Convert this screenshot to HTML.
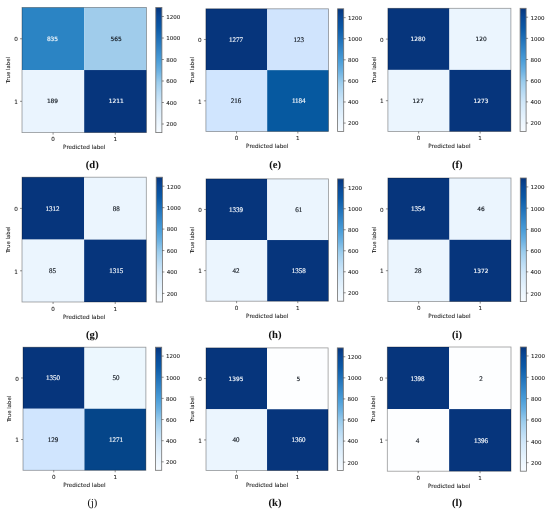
<!DOCTYPE html>
<html><head><meta charset="utf-8"><style>
html,body{margin:0;padding:0;background:#fff;}
body{width:550px;height:513px;overflow:hidden;}
svg{display:block;filter:blur(0.25px);}
text{text-rendering:geometricPrecision;}
</style></head><body>
<svg width="550" height="513" viewBox="0 0 550 513">
<rect width="550" height="513" fill="#fff"/>
<defs><linearGradient id="cb" x1="0" y1="1" x2="0" y2="0">
<stop offset="0.0000" stop-color="#f7fbff"/>
<stop offset="0.0900" stop-color="#eaf5fe"/>
<stop offset="0.2400" stop-color="#d0e7f9"/>
<stop offset="0.3200" stop-color="#b8dbf4"/>
<stop offset="0.4000" stop-color="#9ccded"/>
<stop offset="0.4900" stop-color="#6db2e2"/>
<stop offset="0.5800" stop-color="#4a9dd8"/>
<stop offset="0.7550" stop-color="#1f70b8"/>
<stop offset="0.8450" stop-color="#0b58a5"/>
<stop offset="0.9300" stop-color="#094896"/>
<stop offset="1.0000" stop-color="#06357c"/>
</linearGradient></defs>
<rect x="22.00" y="7.50" width="62.20" height="62.55" fill="#2b84c4"/>
<rect x="84.20" y="7.50" width="62.20" height="62.55" fill="#a0cceb"/>
<rect x="22.00" y="70.05" width="62.20" height="62.55" fill="#eaf4fe"/>
<rect x="84.20" y="70.05" width="62.20" height="62.55" fill="#06357c"/>
<rect x="22.00" y="7.50" width="124.40" height="125.10" fill="none" stroke="#000" stroke-opacity="0.4" stroke-width="0.8"/>
<text x="52.50" y="40.84" text-anchor="middle" style="fill:#f4f8fc;stroke:#f4f8fc;stroke-width:0.15px;font-family:'DejaVu Sans','Liberation Sans',sans-serif;font-size:5.9px;font-weight:normal" >835</text>
<text x="116.20" y="40.84" text-anchor="middle" style="fill:#10161e;stroke:#10161e;stroke-width:0.15px;font-family:'DejaVu Sans','Liberation Sans',sans-serif;font-size:5.9px;font-weight:normal" >565</text>
<text x="52.50" y="103.39" text-anchor="middle" style="fill:#10161e;stroke:#10161e;stroke-width:0.15px;font-family:'DejaVu Sans','Liberation Sans',sans-serif;font-size:5.9px;font-weight:normal" >189</text>
<text x="116.20" y="103.39" text-anchor="middle" style="fill:#f4f8fc;stroke:#f4f8fc;stroke-width:0.15px;font-family:'DejaVu Sans','Liberation Sans',sans-serif;font-size:5.9px;font-weight:normal" >1211</text>
<line x1="20.00" y1="38.77" x2="22.00" y2="38.77" stroke="#222" stroke-width="0.5"/>
<text x="17.80" y="41.48" text-anchor="end" style="fill:#222;stroke:#222;stroke-width:0.08px;font-family:'DejaVu Sans','Liberation Sans',sans-serif;font-size:5.7px;font-weight:normal" >0</text>
<line x1="20.00" y1="101.32" x2="22.00" y2="101.32" stroke="#222" stroke-width="0.5"/>
<text x="17.80" y="104.02" text-anchor="end" style="fill:#222;stroke:#222;stroke-width:0.08px;font-family:'DejaVu Sans','Liberation Sans',sans-serif;font-size:5.7px;font-weight:normal" >1</text>
<line x1="53.10" y1="132.60" x2="53.10" y2="134.60" stroke="#222" stroke-width="0.5"/>
<text x="53.10" y="141.10" text-anchor="middle" style="fill:#222;stroke:#222;stroke-width:0.08px;font-family:'DejaVu Sans','Liberation Sans',sans-serif;font-size:5.6px;font-weight:normal" >0</text>
<line x1="115.30" y1="132.60" x2="115.30" y2="134.60" stroke="#222" stroke-width="0.5"/>
<text x="115.30" y="141.10" text-anchor="middle" style="fill:#222;stroke:#222;stroke-width:0.08px;font-family:'DejaVu Sans','Liberation Sans',sans-serif;font-size:5.6px;font-weight:normal" >1</text>
<text x="84.20" y="149.20" text-anchor="middle" style="fill:#222;stroke:#222;stroke-width:0.08px;font-family:'DejaVu Sans','Liberation Sans',sans-serif;font-size:5.7px;font-weight:normal" >Predicted label</text>
<text x="10.10" y="70.05" text-anchor="middle" style="fill:#222;stroke:#222;stroke-width:0.08px;font-family:'DejaVu Sans','Liberation Sans',sans-serif;font-size:5.4px;font-weight:normal" transform="rotate(-90 10.10 70.05)">True label</text>
<rect x="155.80" y="7.50" width="6.10" height="125.10" fill="url(#cb)" stroke="#707070" stroke-width="0.8"/>
<line x1="161.90" y1="124.00" x2="163.90" y2="124.00" stroke="#222" stroke-width="0.5"/>
<text x="166.20" y="126.40" text-anchor="start" style="fill:#222;stroke:#222;stroke-width:0.08px;font-family:'DejaVu Sans','Liberation Sans',sans-serif;font-size:5.5px;font-weight:normal" >200</text>
<line x1="161.90" y1="102.51" x2="163.90" y2="102.51" stroke="#222" stroke-width="0.5"/>
<text x="166.20" y="104.91" text-anchor="start" style="fill:#222;stroke:#222;stroke-width:0.08px;font-family:'DejaVu Sans','Liberation Sans',sans-serif;font-size:5.5px;font-weight:normal" >400</text>
<line x1="161.90" y1="81.01" x2="163.90" y2="81.01" stroke="#222" stroke-width="0.5"/>
<text x="166.20" y="83.41" text-anchor="start" style="fill:#222;stroke:#222;stroke-width:0.08px;font-family:'DejaVu Sans','Liberation Sans',sans-serif;font-size:5.5px;font-weight:normal" >600</text>
<line x1="161.90" y1="59.52" x2="163.90" y2="59.52" stroke="#222" stroke-width="0.5"/>
<text x="166.20" y="61.92" text-anchor="start" style="fill:#222;stroke:#222;stroke-width:0.08px;font-family:'DejaVu Sans','Liberation Sans',sans-serif;font-size:5.5px;font-weight:normal" >800</text>
<line x1="161.90" y1="38.02" x2="163.90" y2="38.02" stroke="#222" stroke-width="0.5"/>
<text x="166.20" y="40.42" text-anchor="start" style="fill:#222;stroke:#222;stroke-width:0.08px;font-family:'DejaVu Sans','Liberation Sans',sans-serif;font-size:5.5px;font-weight:normal" >1000</text>
<line x1="161.90" y1="16.53" x2="163.90" y2="16.53" stroke="#222" stroke-width="0.5"/>
<text x="166.20" y="18.93" text-anchor="start" style="fill:#222;stroke:#222;stroke-width:0.08px;font-family:'DejaVu Sans','Liberation Sans',sans-serif;font-size:5.5px;font-weight:normal" >1200</text>
<text x="92.30" y="167.70" text-anchor="middle" style="fill:#111;stroke:#111;stroke-width:0.05px;font-family:'Liberation Serif','DejaVu Serif',serif;font-size:10.6px;font-weight:bold" >(d)</text>
<rect x="205.90" y="8.80" width="61.30" height="61.35" fill="#06357c"/>
<rect x="267.20" y="8.80" width="61.30" height="61.35" fill="#d0e4fd"/>
<rect x="205.90" y="70.15" width="61.30" height="61.35" fill="#d0e5fe"/>
<rect x="267.20" y="70.15" width="61.30" height="61.35" fill="#0659a0"/>
<rect x="205.90" y="8.80" width="122.60" height="122.70" fill="none" stroke="#000" stroke-opacity="0.4" stroke-width="0.8"/>
<text x="235.95" y="41.93" text-anchor="middle" style="fill:#f4f8fc;stroke:#f4f8fc;stroke-width:0.15px;font-family:'Liberation Serif','DejaVu Serif',serif;font-size:7.0px;font-weight:normal" >1277</text>
<text x="298.75" y="41.93" text-anchor="middle" style="fill:#10161e;stroke:#10161e;stroke-width:0.15px;font-family:'Liberation Serif','DejaVu Serif',serif;font-size:7.0px;font-weight:normal" >123</text>
<text x="235.95" y="103.28" text-anchor="middle" style="fill:#10161e;stroke:#10161e;stroke-width:0.15px;font-family:'Liberation Serif','DejaVu Serif',serif;font-size:7.0px;font-weight:normal" >216</text>
<text x="298.75" y="103.28" text-anchor="middle" style="fill:#f4f8fc;stroke:#f4f8fc;stroke-width:0.15px;font-family:'Liberation Serif','DejaVu Serif',serif;font-size:7.0px;font-weight:normal" >1184</text>
<line x1="203.90" y1="39.48" x2="205.90" y2="39.48" stroke="#222" stroke-width="0.5"/>
<text x="201.70" y="42.18" text-anchor="end" style="fill:#222;stroke:#222;stroke-width:0.08px;font-family:'DejaVu Sans','Liberation Sans',sans-serif;font-size:5.7px;font-weight:normal" >0</text>
<line x1="203.90" y1="100.83" x2="205.90" y2="100.83" stroke="#222" stroke-width="0.5"/>
<text x="201.70" y="103.53" text-anchor="end" style="fill:#222;stroke:#222;stroke-width:0.08px;font-family:'DejaVu Sans','Liberation Sans',sans-serif;font-size:5.7px;font-weight:normal" >1</text>
<line x1="236.55" y1="131.50" x2="236.55" y2="133.50" stroke="#222" stroke-width="0.5"/>
<text x="236.55" y="140.00" text-anchor="middle" style="fill:#222;stroke:#222;stroke-width:0.08px;font-family:'DejaVu Sans','Liberation Sans',sans-serif;font-size:5.6px;font-weight:normal" >0</text>
<line x1="297.85" y1="131.50" x2="297.85" y2="133.50" stroke="#222" stroke-width="0.5"/>
<text x="297.85" y="140.00" text-anchor="middle" style="fill:#222;stroke:#222;stroke-width:0.08px;font-family:'DejaVu Sans','Liberation Sans',sans-serif;font-size:5.6px;font-weight:normal" >1</text>
<text x="267.20" y="148.10" text-anchor="middle" style="fill:#222;stroke:#222;stroke-width:0.08px;font-family:'DejaVu Sans','Liberation Sans',sans-serif;font-size:5.7px;font-weight:normal" >Predicted label</text>
<text x="194.00" y="70.15" text-anchor="middle" style="fill:#222;stroke:#222;stroke-width:0.08px;font-family:'DejaVu Sans','Liberation Sans',sans-serif;font-size:5.4px;font-weight:normal" transform="rotate(-90 194.00 70.15)">True label</text>
<rect x="337.60" y="8.80" width="6.10" height="122.70" fill="url(#cb)" stroke="#707070" stroke-width="0.8"/>
<line x1="343.70" y1="123.07" x2="345.70" y2="123.07" stroke="#222" stroke-width="0.5"/>
<text x="348.00" y="125.47" text-anchor="start" style="fill:#222;stroke:#222;stroke-width:0.08px;font-family:'DejaVu Sans','Liberation Sans',sans-serif;font-size:5.5px;font-weight:normal" >200</text>
<line x1="343.70" y1="101.98" x2="345.70" y2="101.98" stroke="#222" stroke-width="0.5"/>
<text x="348.00" y="104.38" text-anchor="start" style="fill:#222;stroke:#222;stroke-width:0.08px;font-family:'DejaVu Sans','Liberation Sans',sans-serif;font-size:5.5px;font-weight:normal" >400</text>
<line x1="343.70" y1="80.90" x2="345.70" y2="80.90" stroke="#222" stroke-width="0.5"/>
<text x="348.00" y="83.30" text-anchor="start" style="fill:#222;stroke:#222;stroke-width:0.08px;font-family:'DejaVu Sans','Liberation Sans',sans-serif;font-size:5.5px;font-weight:normal" >600</text>
<line x1="343.70" y1="59.82" x2="345.70" y2="59.82" stroke="#222" stroke-width="0.5"/>
<text x="348.00" y="62.22" text-anchor="start" style="fill:#222;stroke:#222;stroke-width:0.08px;font-family:'DejaVu Sans','Liberation Sans',sans-serif;font-size:5.5px;font-weight:normal" >800</text>
<line x1="343.70" y1="38.74" x2="345.70" y2="38.74" stroke="#222" stroke-width="0.5"/>
<text x="348.00" y="41.14" text-anchor="start" style="fill:#222;stroke:#222;stroke-width:0.08px;font-family:'DejaVu Sans','Liberation Sans',sans-serif;font-size:5.5px;font-weight:normal" >1000</text>
<line x1="343.70" y1="17.65" x2="345.70" y2="17.65" stroke="#222" stroke-width="0.5"/>
<text x="348.00" y="20.05" text-anchor="start" style="fill:#222;stroke:#222;stroke-width:0.08px;font-family:'DejaVu Sans','Liberation Sans',sans-serif;font-size:5.5px;font-weight:normal" >1200</text>
<text x="275.20" y="167.70" text-anchor="middle" style="fill:#111;stroke:#111;stroke-width:0.05px;font-family:'Liberation Serif','DejaVu Serif',serif;font-size:10.6px;font-weight:bold" >(e)</text>
<rect x="387.90" y="8.30" width="61.50" height="61.60" fill="#06357c"/>
<rect x="449.40" y="8.30" width="61.50" height="61.60" fill="#ebf5fe"/>
<rect x="387.90" y="69.90" width="61.50" height="61.60" fill="#ebf5fe"/>
<rect x="449.40" y="69.90" width="61.50" height="61.60" fill="#06357c"/>
<rect x="387.90" y="8.30" width="123.00" height="123.20" fill="none" stroke="#000" stroke-opacity="0.4" stroke-width="0.8"/>
<text x="418.05" y="41.16" text-anchor="middle" style="fill:#f4f8fc;stroke:#f4f8fc;stroke-width:0.15px;font-family:'DejaVu Sans','Liberation Sans',sans-serif;font-size:5.9px;font-weight:normal" >1280</text>
<text x="481.05" y="41.16" text-anchor="middle" style="fill:#10161e;stroke:#10161e;stroke-width:0.15px;font-family:'DejaVu Sans','Liberation Sans',sans-serif;font-size:5.9px;font-weight:normal" >120</text>
<text x="418.05" y="102.77" text-anchor="middle" style="fill:#10161e;stroke:#10161e;stroke-width:0.15px;font-family:'DejaVu Sans','Liberation Sans',sans-serif;font-size:5.9px;font-weight:normal" >127</text>
<text x="481.05" y="102.77" text-anchor="middle" style="fill:#f4f8fc;stroke:#f4f8fc;stroke-width:0.15px;font-family:'DejaVu Sans','Liberation Sans',sans-serif;font-size:5.9px;font-weight:normal" >1273</text>
<line x1="385.90" y1="39.10" x2="387.90" y2="39.10" stroke="#222" stroke-width="0.5"/>
<text x="383.70" y="41.80" text-anchor="end" style="fill:#222;stroke:#222;stroke-width:0.08px;font-family:'DejaVu Sans','Liberation Sans',sans-serif;font-size:5.7px;font-weight:normal" >0</text>
<line x1="385.90" y1="100.70" x2="387.90" y2="100.70" stroke="#222" stroke-width="0.5"/>
<text x="383.70" y="103.40" text-anchor="end" style="fill:#222;stroke:#222;stroke-width:0.08px;font-family:'DejaVu Sans','Liberation Sans',sans-serif;font-size:5.7px;font-weight:normal" >1</text>
<line x1="418.65" y1="131.50" x2="418.65" y2="133.50" stroke="#222" stroke-width="0.5"/>
<text x="418.65" y="140.00" text-anchor="middle" style="fill:#222;stroke:#222;stroke-width:0.08px;font-family:'DejaVu Sans','Liberation Sans',sans-serif;font-size:5.6px;font-weight:normal" >0</text>
<line x1="480.15" y1="131.50" x2="480.15" y2="133.50" stroke="#222" stroke-width="0.5"/>
<text x="480.15" y="140.00" text-anchor="middle" style="fill:#222;stroke:#222;stroke-width:0.08px;font-family:'DejaVu Sans','Liberation Sans',sans-serif;font-size:5.6px;font-weight:normal" >1</text>
<text x="449.40" y="148.10" text-anchor="middle" style="fill:#222;stroke:#222;stroke-width:0.08px;font-family:'DejaVu Sans','Liberation Sans',sans-serif;font-size:5.7px;font-weight:normal" >Predicted label</text>
<text x="376.00" y="69.90" text-anchor="middle" style="fill:#222;stroke:#222;stroke-width:0.08px;font-family:'DejaVu Sans','Liberation Sans',sans-serif;font-size:5.4px;font-weight:normal" transform="rotate(-90 376.00 69.90)">True label</text>
<rect x="520.10" y="8.30" width="6.00" height="123.20" fill="url(#cb)" stroke="#707070" stroke-width="0.8"/>
<line x1="526.10" y1="123.03" x2="528.10" y2="123.03" stroke="#222" stroke-width="0.5"/>
<text x="530.40" y="125.43" text-anchor="start" style="fill:#222;stroke:#222;stroke-width:0.08px;font-family:'DejaVu Sans','Liberation Sans',sans-serif;font-size:5.5px;font-weight:normal" >200</text>
<line x1="526.10" y1="101.86" x2="528.10" y2="101.86" stroke="#222" stroke-width="0.5"/>
<text x="530.40" y="104.26" text-anchor="start" style="fill:#222;stroke:#222;stroke-width:0.08px;font-family:'DejaVu Sans','Liberation Sans',sans-serif;font-size:5.5px;font-weight:normal" >400</text>
<line x1="526.10" y1="80.70" x2="528.10" y2="80.70" stroke="#222" stroke-width="0.5"/>
<text x="530.40" y="83.10" text-anchor="start" style="fill:#222;stroke:#222;stroke-width:0.08px;font-family:'DejaVu Sans','Liberation Sans',sans-serif;font-size:5.5px;font-weight:normal" >600</text>
<line x1="526.10" y1="59.53" x2="528.10" y2="59.53" stroke="#222" stroke-width="0.5"/>
<text x="530.40" y="61.93" text-anchor="start" style="fill:#222;stroke:#222;stroke-width:0.08px;font-family:'DejaVu Sans','Liberation Sans',sans-serif;font-size:5.5px;font-weight:normal" >800</text>
<line x1="526.10" y1="38.36" x2="528.10" y2="38.36" stroke="#222" stroke-width="0.5"/>
<text x="530.40" y="40.76" text-anchor="start" style="fill:#222;stroke:#222;stroke-width:0.08px;font-family:'DejaVu Sans','Liberation Sans',sans-serif;font-size:5.5px;font-weight:normal" >1000</text>
<line x1="526.10" y1="17.19" x2="528.10" y2="17.19" stroke="#222" stroke-width="0.5"/>
<text x="530.40" y="19.59" text-anchor="start" style="fill:#222;stroke:#222;stroke-width:0.08px;font-family:'DejaVu Sans','Liberation Sans',sans-serif;font-size:5.5px;font-weight:normal" >1200</text>
<text x="457.30" y="167.70" text-anchor="middle" style="fill:#111;stroke:#111;stroke-width:0.05px;font-family:'Liberation Serif','DejaVu Serif',serif;font-size:10.6px;font-weight:bold" >(f)</text>
<rect x="22.00" y="177.20" width="62.15" height="62.40" fill="#06357c"/>
<rect x="84.15" y="177.20" width="62.15" height="62.40" fill="#ebf5fe"/>
<rect x="22.00" y="239.60" width="62.15" height="62.40" fill="#ebf5fe"/>
<rect x="84.15" y="239.60" width="62.15" height="62.40" fill="#06357c"/>
<rect x="22.00" y="177.20" width="124.30" height="124.80" fill="none" stroke="#000" stroke-opacity="0.4" stroke-width="0.8"/>
<text x="52.48" y="210.85" text-anchor="middle" style="fill:#f4f8fc;stroke:#f4f8fc;stroke-width:0.15px;font-family:'Liberation Serif','DejaVu Serif',serif;font-size:7.0px;font-weight:normal" >1312</text>
<text x="116.13" y="210.85" text-anchor="middle" style="fill:#10161e;stroke:#10161e;stroke-width:0.15px;font-family:'Liberation Serif','DejaVu Serif',serif;font-size:7.0px;font-weight:normal" >88</text>
<text x="52.48" y="273.25" text-anchor="middle" style="fill:#10161e;stroke:#10161e;stroke-width:0.15px;font-family:'Liberation Serif','DejaVu Serif',serif;font-size:7.0px;font-weight:normal" >85</text>
<text x="116.13" y="273.25" text-anchor="middle" style="fill:#f4f8fc;stroke:#f4f8fc;stroke-width:0.15px;font-family:'Liberation Serif','DejaVu Serif',serif;font-size:7.0px;font-weight:normal" >1315</text>
<line x1="20.00" y1="208.40" x2="22.00" y2="208.40" stroke="#222" stroke-width="0.5"/>
<text x="17.80" y="211.10" text-anchor="end" style="fill:#222;stroke:#222;stroke-width:0.08px;font-family:'DejaVu Sans','Liberation Sans',sans-serif;font-size:5.7px;font-weight:normal" >0</text>
<line x1="20.00" y1="270.80" x2="22.00" y2="270.80" stroke="#222" stroke-width="0.5"/>
<text x="17.80" y="273.50" text-anchor="end" style="fill:#222;stroke:#222;stroke-width:0.08px;font-family:'DejaVu Sans','Liberation Sans',sans-serif;font-size:5.7px;font-weight:normal" >1</text>
<line x1="53.08" y1="302.00" x2="53.08" y2="304.00" stroke="#222" stroke-width="0.5"/>
<text x="53.08" y="310.50" text-anchor="middle" style="fill:#222;stroke:#222;stroke-width:0.08px;font-family:'DejaVu Sans','Liberation Sans',sans-serif;font-size:5.6px;font-weight:normal" >0</text>
<line x1="115.23" y1="302.00" x2="115.23" y2="304.00" stroke="#222" stroke-width="0.5"/>
<text x="115.23" y="310.50" text-anchor="middle" style="fill:#222;stroke:#222;stroke-width:0.08px;font-family:'DejaVu Sans','Liberation Sans',sans-serif;font-size:5.6px;font-weight:normal" >1</text>
<text x="84.15" y="318.60" text-anchor="middle" style="fill:#222;stroke:#222;stroke-width:0.08px;font-family:'DejaVu Sans','Liberation Sans',sans-serif;font-size:5.7px;font-weight:normal" >Predicted label</text>
<text x="10.10" y="239.60" text-anchor="middle" style="fill:#222;stroke:#222;stroke-width:0.08px;font-family:'DejaVu Sans','Liberation Sans',sans-serif;font-size:5.4px;font-weight:normal" transform="rotate(-90 10.10 239.60)">True label</text>
<rect x="156.20" y="177.20" width="6.20" height="124.80" fill="url(#cb)" stroke="#707070" stroke-width="0.8"/>
<line x1="162.40" y1="293.42" x2="164.40" y2="293.42" stroke="#222" stroke-width="0.5"/>
<text x="166.70" y="295.82" text-anchor="start" style="fill:#222;stroke:#222;stroke-width:0.08px;font-family:'DejaVu Sans','Liberation Sans',sans-serif;font-size:5.5px;font-weight:normal" >200</text>
<line x1="162.40" y1="271.98" x2="164.40" y2="271.98" stroke="#222" stroke-width="0.5"/>
<text x="166.70" y="274.38" text-anchor="start" style="fill:#222;stroke:#222;stroke-width:0.08px;font-family:'DejaVu Sans','Liberation Sans',sans-serif;font-size:5.5px;font-weight:normal" >400</text>
<line x1="162.40" y1="250.54" x2="164.40" y2="250.54" stroke="#222" stroke-width="0.5"/>
<text x="166.70" y="252.94" text-anchor="start" style="fill:#222;stroke:#222;stroke-width:0.08px;font-family:'DejaVu Sans','Liberation Sans',sans-serif;font-size:5.5px;font-weight:normal" >600</text>
<line x1="162.40" y1="229.09" x2="164.40" y2="229.09" stroke="#222" stroke-width="0.5"/>
<text x="166.70" y="231.49" text-anchor="start" style="fill:#222;stroke:#222;stroke-width:0.08px;font-family:'DejaVu Sans','Liberation Sans',sans-serif;font-size:5.5px;font-weight:normal" >800</text>
<line x1="162.40" y1="207.65" x2="164.40" y2="207.65" stroke="#222" stroke-width="0.5"/>
<text x="166.70" y="210.05" text-anchor="start" style="fill:#222;stroke:#222;stroke-width:0.08px;font-family:'DejaVu Sans','Liberation Sans',sans-serif;font-size:5.5px;font-weight:normal" >1000</text>
<line x1="162.40" y1="186.21" x2="164.40" y2="186.21" stroke="#222" stroke-width="0.5"/>
<text x="166.70" y="188.61" text-anchor="start" style="fill:#222;stroke:#222;stroke-width:0.08px;font-family:'DejaVu Sans','Liberation Sans',sans-serif;font-size:5.5px;font-weight:normal" >1200</text>
<text x="92.20" y="338.00" text-anchor="middle" style="fill:#111;stroke:#111;stroke-width:0.05px;font-family:'Liberation Serif','DejaVu Serif',serif;font-size:10.6px;font-weight:bold" >(g)</text>
<rect x="206.00" y="178.90" width="61.20" height="61.15" fill="#06357c"/>
<rect x="267.20" y="178.90" width="61.20" height="61.15" fill="#ebf5fe"/>
<rect x="206.00" y="240.05" width="61.20" height="61.15" fill="#ebf5fe"/>
<rect x="267.20" y="240.05" width="61.20" height="61.15" fill="#06357c"/>
<rect x="206.00" y="178.90" width="122.40" height="122.30" fill="none" stroke="#000" stroke-opacity="0.4" stroke-width="0.8"/>
<text x="236.00" y="211.93" text-anchor="middle" style="fill:#f4f8fc;stroke:#f4f8fc;stroke-width:0.15px;font-family:'Liberation Serif','DejaVu Serif',serif;font-size:7.0px;font-weight:normal" >1339</text>
<text x="298.70" y="211.93" text-anchor="middle" style="fill:#10161e;stroke:#10161e;stroke-width:0.15px;font-family:'Liberation Serif','DejaVu Serif',serif;font-size:7.0px;font-weight:normal" >61</text>
<text x="236.00" y="273.07" text-anchor="middle" style="fill:#10161e;stroke:#10161e;stroke-width:0.15px;font-family:'Liberation Serif','DejaVu Serif',serif;font-size:7.0px;font-weight:normal" >42</text>
<text x="298.70" y="273.07" text-anchor="middle" style="fill:#f4f8fc;stroke:#f4f8fc;stroke-width:0.15px;font-family:'Liberation Serif','DejaVu Serif',serif;font-size:7.0px;font-weight:normal" >1358</text>
<line x1="204.00" y1="209.48" x2="206.00" y2="209.48" stroke="#222" stroke-width="0.5"/>
<text x="201.80" y="212.18" text-anchor="end" style="fill:#222;stroke:#222;stroke-width:0.08px;font-family:'DejaVu Sans','Liberation Sans',sans-serif;font-size:5.7px;font-weight:normal" >0</text>
<line x1="204.00" y1="270.62" x2="206.00" y2="270.62" stroke="#222" stroke-width="0.5"/>
<text x="201.80" y="273.32" text-anchor="end" style="fill:#222;stroke:#222;stroke-width:0.08px;font-family:'DejaVu Sans','Liberation Sans',sans-serif;font-size:5.7px;font-weight:normal" >1</text>
<line x1="236.60" y1="301.20" x2="236.60" y2="303.20" stroke="#222" stroke-width="0.5"/>
<text x="236.60" y="309.70" text-anchor="middle" style="fill:#222;stroke:#222;stroke-width:0.08px;font-family:'DejaVu Sans','Liberation Sans',sans-serif;font-size:5.6px;font-weight:normal" >0</text>
<line x1="297.80" y1="301.20" x2="297.80" y2="303.20" stroke="#222" stroke-width="0.5"/>
<text x="297.80" y="309.70" text-anchor="middle" style="fill:#222;stroke:#222;stroke-width:0.08px;font-family:'DejaVu Sans','Liberation Sans',sans-serif;font-size:5.6px;font-weight:normal" >1</text>
<text x="267.20" y="317.80" text-anchor="middle" style="fill:#222;stroke:#222;stroke-width:0.08px;font-family:'DejaVu Sans','Liberation Sans',sans-serif;font-size:5.7px;font-weight:normal" >Predicted label</text>
<text x="194.10" y="240.05" text-anchor="middle" style="fill:#222;stroke:#222;stroke-width:0.08px;font-family:'DejaVu Sans','Liberation Sans',sans-serif;font-size:5.4px;font-weight:normal" transform="rotate(-90 194.10 240.05)">True label</text>
<rect x="337.60" y="178.90" width="6.10" height="122.30" fill="url(#cb)" stroke="#707070" stroke-width="0.8"/>
<line x1="343.70" y1="292.79" x2="345.70" y2="292.79" stroke="#222" stroke-width="0.5"/>
<text x="348.00" y="295.19" text-anchor="start" style="fill:#222;stroke:#222;stroke-width:0.08px;font-family:'DejaVu Sans','Liberation Sans',sans-serif;font-size:5.5px;font-weight:normal" >200</text>
<line x1="343.70" y1="271.78" x2="345.70" y2="271.78" stroke="#222" stroke-width="0.5"/>
<text x="348.00" y="274.18" text-anchor="start" style="fill:#222;stroke:#222;stroke-width:0.08px;font-family:'DejaVu Sans','Liberation Sans',sans-serif;font-size:5.5px;font-weight:normal" >400</text>
<line x1="343.70" y1="250.77" x2="345.70" y2="250.77" stroke="#222" stroke-width="0.5"/>
<text x="348.00" y="253.17" text-anchor="start" style="fill:#222;stroke:#222;stroke-width:0.08px;font-family:'DejaVu Sans','Liberation Sans',sans-serif;font-size:5.5px;font-weight:normal" >600</text>
<line x1="343.70" y1="229.75" x2="345.70" y2="229.75" stroke="#222" stroke-width="0.5"/>
<text x="348.00" y="232.15" text-anchor="start" style="fill:#222;stroke:#222;stroke-width:0.08px;font-family:'DejaVu Sans','Liberation Sans',sans-serif;font-size:5.5px;font-weight:normal" >800</text>
<line x1="343.70" y1="208.74" x2="345.70" y2="208.74" stroke="#222" stroke-width="0.5"/>
<text x="348.00" y="211.14" text-anchor="start" style="fill:#222;stroke:#222;stroke-width:0.08px;font-family:'DejaVu Sans','Liberation Sans',sans-serif;font-size:5.5px;font-weight:normal" >1000</text>
<line x1="343.70" y1="187.73" x2="345.70" y2="187.73" stroke="#222" stroke-width="0.5"/>
<text x="348.00" y="190.13" text-anchor="start" style="fill:#222;stroke:#222;stroke-width:0.08px;font-family:'DejaVu Sans','Liberation Sans',sans-serif;font-size:5.5px;font-weight:normal" >1200</text>
<text x="275.00" y="338.00" text-anchor="middle" style="fill:#111;stroke:#111;stroke-width:0.05px;font-family:'Liberation Serif','DejaVu Serif',serif;font-size:10.6px;font-weight:bold" >(h)</text>
<rect x="387.90" y="178.00" width="61.55" height="61.80" fill="#06357c"/>
<rect x="449.45" y="178.00" width="61.55" height="61.80" fill="#ebf5fe"/>
<rect x="387.90" y="239.80" width="61.55" height="61.80" fill="#ebf5fe"/>
<rect x="449.45" y="239.80" width="61.55" height="61.80" fill="#06357c"/>
<rect x="387.90" y="178.00" width="123.10" height="123.60" fill="none" stroke="#000" stroke-opacity="0.4" stroke-width="0.8"/>
<text x="418.07" y="211.35" text-anchor="middle" style="fill:#f4f8fc;stroke:#f4f8fc;stroke-width:0.15px;font-family:'Liberation Serif','DejaVu Serif',serif;font-size:7.0px;font-weight:normal" >1354</text>
<text x="481.12" y="210.97" text-anchor="middle" style="fill:#10161e;stroke:#10161e;stroke-width:0.15px;font-family:'DejaVu Sans','Liberation Sans',sans-serif;font-size:5.9px;font-weight:normal" >46</text>
<text x="418.07" y="273.15" text-anchor="middle" style="fill:#10161e;stroke:#10161e;stroke-width:0.15px;font-family:'Liberation Serif','DejaVu Serif',serif;font-size:7.0px;font-weight:normal" >28</text>
<text x="481.12" y="272.77" text-anchor="middle" style="fill:#f4f8fc;stroke:#f4f8fc;stroke-width:0.15px;font-family:'DejaVu Sans','Liberation Sans',sans-serif;font-size:5.9px;font-weight:normal" >1372</text>
<line x1="385.90" y1="208.90" x2="387.90" y2="208.90" stroke="#222" stroke-width="0.5"/>
<text x="383.70" y="211.60" text-anchor="end" style="fill:#222;stroke:#222;stroke-width:0.08px;font-family:'DejaVu Sans','Liberation Sans',sans-serif;font-size:5.7px;font-weight:normal" >0</text>
<line x1="385.90" y1="270.70" x2="387.90" y2="270.70" stroke="#222" stroke-width="0.5"/>
<text x="383.70" y="273.40" text-anchor="end" style="fill:#222;stroke:#222;stroke-width:0.08px;font-family:'DejaVu Sans','Liberation Sans',sans-serif;font-size:5.7px;font-weight:normal" >1</text>
<line x1="418.67" y1="301.60" x2="418.67" y2="303.60" stroke="#222" stroke-width="0.5"/>
<text x="418.67" y="310.10" text-anchor="middle" style="fill:#222;stroke:#222;stroke-width:0.08px;font-family:'DejaVu Sans','Liberation Sans',sans-serif;font-size:5.6px;font-weight:normal" >0</text>
<line x1="480.23" y1="301.60" x2="480.23" y2="303.60" stroke="#222" stroke-width="0.5"/>
<text x="480.23" y="310.10" text-anchor="middle" style="fill:#222;stroke:#222;stroke-width:0.08px;font-family:'DejaVu Sans','Liberation Sans',sans-serif;font-size:5.6px;font-weight:normal" >1</text>
<text x="449.45" y="318.20" text-anchor="middle" style="fill:#222;stroke:#222;stroke-width:0.08px;font-family:'DejaVu Sans','Liberation Sans',sans-serif;font-size:5.7px;font-weight:normal" >Predicted label</text>
<text x="376.00" y="239.80" text-anchor="middle" style="fill:#222;stroke:#222;stroke-width:0.08px;font-family:'DejaVu Sans','Liberation Sans',sans-serif;font-size:5.4px;font-weight:normal" transform="rotate(-90 376.00 239.80)">True label</text>
<rect x="520.30" y="178.00" width="6.00" height="123.60" fill="url(#cb)" stroke="#707070" stroke-width="0.8"/>
<line x1="526.30" y1="293.11" x2="528.30" y2="293.11" stroke="#222" stroke-width="0.5"/>
<text x="530.60" y="295.51" text-anchor="start" style="fill:#222;stroke:#222;stroke-width:0.08px;font-family:'DejaVu Sans','Liberation Sans',sans-serif;font-size:5.5px;font-weight:normal" >200</text>
<line x1="526.30" y1="271.87" x2="528.30" y2="271.87" stroke="#222" stroke-width="0.5"/>
<text x="530.60" y="274.27" text-anchor="start" style="fill:#222;stroke:#222;stroke-width:0.08px;font-family:'DejaVu Sans','Liberation Sans',sans-serif;font-size:5.5px;font-weight:normal" >400</text>
<line x1="526.30" y1="250.63" x2="528.30" y2="250.63" stroke="#222" stroke-width="0.5"/>
<text x="530.60" y="253.03" text-anchor="start" style="fill:#222;stroke:#222;stroke-width:0.08px;font-family:'DejaVu Sans','Liberation Sans',sans-serif;font-size:5.5px;font-weight:normal" >600</text>
<line x1="526.30" y1="229.39" x2="528.30" y2="229.39" stroke="#222" stroke-width="0.5"/>
<text x="530.60" y="231.79" text-anchor="start" style="fill:#222;stroke:#222;stroke-width:0.08px;font-family:'DejaVu Sans','Liberation Sans',sans-serif;font-size:5.5px;font-weight:normal" >800</text>
<line x1="526.30" y1="208.16" x2="528.30" y2="208.16" stroke="#222" stroke-width="0.5"/>
<text x="530.60" y="210.56" text-anchor="start" style="fill:#222;stroke:#222;stroke-width:0.08px;font-family:'DejaVu Sans','Liberation Sans',sans-serif;font-size:5.5px;font-weight:normal" >1000</text>
<line x1="526.30" y1="186.92" x2="528.30" y2="186.92" stroke="#222" stroke-width="0.5"/>
<text x="530.60" y="189.32" text-anchor="start" style="fill:#222;stroke:#222;stroke-width:0.08px;font-family:'DejaVu Sans','Liberation Sans',sans-serif;font-size:5.5px;font-weight:normal" >1200</text>
<text x="457.10" y="338.00" text-anchor="middle" style="fill:#111;stroke:#111;stroke-width:0.05px;font-family:'Liberation Serif','DejaVu Serif',serif;font-size:10.6px;font-weight:bold" >(i)</text>
<rect x="23.00" y="347.20" width="61.45" height="61.55" fill="#06357c"/>
<rect x="84.45" y="347.20" width="61.45" height="61.55" fill="#ecf7fe"/>
<rect x="23.00" y="408.75" width="61.45" height="61.55" fill="#d0e5fe"/>
<rect x="84.45" y="408.75" width="61.45" height="61.55" fill="#054589"/>
<rect x="23.00" y="347.20" width="122.90" height="123.10" fill="none" stroke="#000" stroke-opacity="0.4" stroke-width="0.8"/>
<text x="53.12" y="380.43" text-anchor="middle" style="fill:#f4f8fc;stroke:#f4f8fc;stroke-width:0.15px;font-family:'Liberation Serif','DejaVu Serif',serif;font-size:7.0px;font-weight:normal" >1350</text>
<text x="116.08" y="380.43" text-anchor="middle" style="fill:#10161e;stroke:#10161e;stroke-width:0.15px;font-family:'Liberation Serif','DejaVu Serif',serif;font-size:7.0px;font-weight:normal" >50</text>
<text x="53.12" y="441.97" text-anchor="middle" style="fill:#10161e;stroke:#10161e;stroke-width:0.15px;font-family:'Liberation Serif','DejaVu Serif',serif;font-size:7.0px;font-weight:normal" >129</text>
<text x="116.08" y="441.97" text-anchor="middle" style="fill:#f4f8fc;stroke:#f4f8fc;stroke-width:0.15px;font-family:'Liberation Serif','DejaVu Serif',serif;font-size:7.0px;font-weight:normal" >1271</text>
<line x1="21.00" y1="377.98" x2="23.00" y2="377.98" stroke="#222" stroke-width="0.5"/>
<text x="18.80" y="380.68" text-anchor="end" style="fill:#222;stroke:#222;stroke-width:0.08px;font-family:'DejaVu Sans','Liberation Sans',sans-serif;font-size:5.7px;font-weight:normal" >0</text>
<line x1="21.00" y1="439.52" x2="23.00" y2="439.52" stroke="#222" stroke-width="0.5"/>
<text x="18.80" y="442.22" text-anchor="end" style="fill:#222;stroke:#222;stroke-width:0.08px;font-family:'DejaVu Sans','Liberation Sans',sans-serif;font-size:5.7px;font-weight:normal" >1</text>
<line x1="53.73" y1="470.30" x2="53.73" y2="472.30" stroke="#222" stroke-width="0.5"/>
<text x="53.73" y="478.80" text-anchor="middle" style="fill:#222;stroke:#222;stroke-width:0.08px;font-family:'DejaVu Sans','Liberation Sans',sans-serif;font-size:5.6px;font-weight:normal" >0</text>
<line x1="115.18" y1="470.30" x2="115.18" y2="472.30" stroke="#222" stroke-width="0.5"/>
<text x="115.18" y="478.80" text-anchor="middle" style="fill:#222;stroke:#222;stroke-width:0.08px;font-family:'DejaVu Sans','Liberation Sans',sans-serif;font-size:5.6px;font-weight:normal" >1</text>
<text x="84.45" y="486.90" text-anchor="middle" style="fill:#222;stroke:#222;stroke-width:0.08px;font-family:'DejaVu Sans','Liberation Sans',sans-serif;font-size:5.7px;font-weight:normal" >Predicted label</text>
<text x="11.10" y="408.75" text-anchor="middle" style="fill:#222;stroke:#222;stroke-width:0.08px;font-family:'DejaVu Sans','Liberation Sans',sans-serif;font-size:5.4px;font-weight:normal" transform="rotate(-90 11.10 408.75)">True label</text>
<rect x="155.50" y="347.20" width="6.20" height="123.10" fill="url(#cb)" stroke="#707070" stroke-width="0.8"/>
<line x1="161.70" y1="461.84" x2="163.70" y2="461.84" stroke="#222" stroke-width="0.5"/>
<text x="166.00" y="464.24" text-anchor="start" style="fill:#222;stroke:#222;stroke-width:0.08px;font-family:'DejaVu Sans','Liberation Sans',sans-serif;font-size:5.5px;font-weight:normal" >200</text>
<line x1="161.70" y1="440.69" x2="163.70" y2="440.69" stroke="#222" stroke-width="0.5"/>
<text x="166.00" y="443.09" text-anchor="start" style="fill:#222;stroke:#222;stroke-width:0.08px;font-family:'DejaVu Sans','Liberation Sans',sans-serif;font-size:5.5px;font-weight:normal" >400</text>
<line x1="161.70" y1="419.54" x2="163.70" y2="419.54" stroke="#222" stroke-width="0.5"/>
<text x="166.00" y="421.94" text-anchor="start" style="fill:#222;stroke:#222;stroke-width:0.08px;font-family:'DejaVu Sans','Liberation Sans',sans-serif;font-size:5.5px;font-weight:normal" >600</text>
<line x1="161.70" y1="398.39" x2="163.70" y2="398.39" stroke="#222" stroke-width="0.5"/>
<text x="166.00" y="400.79" text-anchor="start" style="fill:#222;stroke:#222;stroke-width:0.08px;font-family:'DejaVu Sans','Liberation Sans',sans-serif;font-size:5.5px;font-weight:normal" >800</text>
<line x1="161.70" y1="377.23" x2="163.70" y2="377.23" stroke="#222" stroke-width="0.5"/>
<text x="166.00" y="379.63" text-anchor="start" style="fill:#222;stroke:#222;stroke-width:0.08px;font-family:'DejaVu Sans','Liberation Sans',sans-serif;font-size:5.5px;font-weight:normal" >1000</text>
<line x1="161.70" y1="356.08" x2="163.70" y2="356.08" stroke="#222" stroke-width="0.5"/>
<text x="166.00" y="358.48" text-anchor="start" style="fill:#222;stroke:#222;stroke-width:0.08px;font-family:'DejaVu Sans','Liberation Sans',sans-serif;font-size:5.5px;font-weight:normal" >1200</text>
<text x="92.40" y="505.60" text-anchor="middle" style="fill:#111;stroke:#111;stroke-width:0.05px;font-family:'Liberation Serif','DejaVu Serif',serif;font-size:10.6px;font-weight:normal" >(j)</text>
<rect x="206.00" y="347.90" width="61.05" height="61.35" fill="#06357c"/>
<rect x="267.05" y="347.90" width="61.05" height="61.35" fill="#fdfeff"/>
<rect x="206.00" y="409.25" width="61.05" height="61.35" fill="#ebf5fe"/>
<rect x="267.05" y="409.25" width="61.05" height="61.35" fill="#06357c"/>
<rect x="206.00" y="347.90" width="122.10" height="122.70" fill="none" stroke="#000" stroke-opacity="0.4" stroke-width="0.8"/>
<text x="235.93" y="380.64" text-anchor="middle" style="fill:#f4f8fc;stroke:#f4f8fc;stroke-width:0.15px;font-family:'DejaVu Sans','Liberation Sans',sans-serif;font-size:5.9px;font-weight:normal" >1395</text>
<text x="298.48" y="380.64" text-anchor="middle" style="fill:#10161e;stroke:#10161e;stroke-width:0.15px;font-family:'DejaVu Sans','Liberation Sans',sans-serif;font-size:5.9px;font-weight:normal" >5</text>
<text x="235.93" y="442.38" text-anchor="middle" style="fill:#10161e;stroke:#10161e;stroke-width:0.15px;font-family:'Liberation Serif','DejaVu Serif',serif;font-size:7.0px;font-weight:normal" >40</text>
<text x="298.48" y="442.38" text-anchor="middle" style="fill:#f4f8fc;stroke:#f4f8fc;stroke-width:0.15px;font-family:'Liberation Serif','DejaVu Serif',serif;font-size:7.0px;font-weight:normal" >1360</text>
<line x1="204.00" y1="378.57" x2="206.00" y2="378.57" stroke="#222" stroke-width="0.5"/>
<text x="201.80" y="381.27" text-anchor="end" style="fill:#222;stroke:#222;stroke-width:0.08px;font-family:'DejaVu Sans','Liberation Sans',sans-serif;font-size:5.7px;font-weight:normal" >0</text>
<line x1="204.00" y1="439.93" x2="206.00" y2="439.93" stroke="#222" stroke-width="0.5"/>
<text x="201.80" y="442.62" text-anchor="end" style="fill:#222;stroke:#222;stroke-width:0.08px;font-family:'DejaVu Sans','Liberation Sans',sans-serif;font-size:5.7px;font-weight:normal" >1</text>
<line x1="236.53" y1="470.60" x2="236.53" y2="472.60" stroke="#222" stroke-width="0.5"/>
<text x="236.53" y="479.10" text-anchor="middle" style="fill:#222;stroke:#222;stroke-width:0.08px;font-family:'DejaVu Sans','Liberation Sans',sans-serif;font-size:5.6px;font-weight:normal" >0</text>
<line x1="297.58" y1="470.60" x2="297.58" y2="472.60" stroke="#222" stroke-width="0.5"/>
<text x="297.58" y="479.10" text-anchor="middle" style="fill:#222;stroke:#222;stroke-width:0.08px;font-family:'DejaVu Sans','Liberation Sans',sans-serif;font-size:5.6px;font-weight:normal" >1</text>
<text x="267.05" y="487.20" text-anchor="middle" style="fill:#222;stroke:#222;stroke-width:0.08px;font-family:'DejaVu Sans','Liberation Sans',sans-serif;font-size:5.7px;font-weight:normal" >Predicted label</text>
<text x="194.10" y="409.25" text-anchor="middle" style="fill:#222;stroke:#222;stroke-width:0.08px;font-family:'DejaVu Sans','Liberation Sans',sans-serif;font-size:5.4px;font-weight:normal" transform="rotate(-90 194.10 409.25)">True label</text>
<rect x="337.30" y="347.90" width="6.00" height="122.70" fill="url(#cb)" stroke="#707070" stroke-width="0.8"/>
<line x1="343.30" y1="462.17" x2="345.30" y2="462.17" stroke="#222" stroke-width="0.5"/>
<text x="347.60" y="464.57" text-anchor="start" style="fill:#222;stroke:#222;stroke-width:0.08px;font-family:'DejaVu Sans','Liberation Sans',sans-serif;font-size:5.5px;font-weight:normal" >200</text>
<line x1="343.30" y1="441.08" x2="345.30" y2="441.08" stroke="#222" stroke-width="0.5"/>
<text x="347.60" y="443.48" text-anchor="start" style="fill:#222;stroke:#222;stroke-width:0.08px;font-family:'DejaVu Sans','Liberation Sans',sans-serif;font-size:5.5px;font-weight:normal" >400</text>
<line x1="343.30" y1="420.00" x2="345.30" y2="420.00" stroke="#222" stroke-width="0.5"/>
<text x="347.60" y="422.40" text-anchor="start" style="fill:#222;stroke:#222;stroke-width:0.08px;font-family:'DejaVu Sans','Liberation Sans',sans-serif;font-size:5.5px;font-weight:normal" >600</text>
<line x1="343.30" y1="398.92" x2="345.30" y2="398.92" stroke="#222" stroke-width="0.5"/>
<text x="347.60" y="401.32" text-anchor="start" style="fill:#222;stroke:#222;stroke-width:0.08px;font-family:'DejaVu Sans','Liberation Sans',sans-serif;font-size:5.5px;font-weight:normal" >800</text>
<line x1="343.30" y1="377.84" x2="345.30" y2="377.84" stroke="#222" stroke-width="0.5"/>
<text x="347.60" y="380.24" text-anchor="start" style="fill:#222;stroke:#222;stroke-width:0.08px;font-family:'DejaVu Sans','Liberation Sans',sans-serif;font-size:5.5px;font-weight:normal" >1000</text>
<line x1="343.30" y1="356.75" x2="345.30" y2="356.75" stroke="#222" stroke-width="0.5"/>
<text x="347.60" y="359.15" text-anchor="start" style="fill:#222;stroke:#222;stroke-width:0.08px;font-family:'DejaVu Sans','Liberation Sans',sans-serif;font-size:5.5px;font-weight:normal" >1200</text>
<text x="275.00" y="505.60" text-anchor="middle" style="fill:#111;stroke:#111;stroke-width:0.05px;font-family:'Liberation Serif','DejaVu Serif',serif;font-size:10.6px;font-weight:bold" >(k)</text>
<rect x="387.30" y="347.00" width="61.85" height="62.10" fill="#06357c"/>
<rect x="449.15" y="347.00" width="61.85" height="62.10" fill="#fdfeff"/>
<rect x="387.30" y="409.10" width="61.85" height="62.10" fill="#fdfeff"/>
<rect x="449.15" y="409.10" width="61.85" height="62.10" fill="#06357c"/>
<rect x="387.30" y="347.00" width="123.70" height="124.20" fill="none" stroke="#000" stroke-opacity="0.4" stroke-width="0.8"/>
<text x="417.62" y="380.50" text-anchor="middle" style="fill:#f4f8fc;stroke:#f4f8fc;stroke-width:0.15px;font-family:'Liberation Serif','DejaVu Serif',serif;font-size:7.0px;font-weight:normal" >1398</text>
<text x="480.97" y="380.50" text-anchor="middle" style="fill:#10161e;stroke:#10161e;stroke-width:0.15px;font-family:'Liberation Serif','DejaVu Serif',serif;font-size:7.0px;font-weight:normal" >2</text>
<text x="417.62" y="442.60" text-anchor="middle" style="fill:#10161e;stroke:#10161e;stroke-width:0.15px;font-family:'Liberation Serif','DejaVu Serif',serif;font-size:7.0px;font-weight:normal" >4</text>
<text x="480.97" y="442.60" text-anchor="middle" style="fill:#f4f8fc;stroke:#f4f8fc;stroke-width:0.15px;font-family:'Liberation Serif','DejaVu Serif',serif;font-size:7.0px;font-weight:normal" >1396</text>
<line x1="385.30" y1="378.05" x2="387.30" y2="378.05" stroke="#222" stroke-width="0.5"/>
<text x="383.10" y="380.75" text-anchor="end" style="fill:#222;stroke:#222;stroke-width:0.08px;font-family:'DejaVu Sans','Liberation Sans',sans-serif;font-size:5.7px;font-weight:normal" >0</text>
<line x1="385.30" y1="440.15" x2="387.30" y2="440.15" stroke="#222" stroke-width="0.5"/>
<text x="383.10" y="442.85" text-anchor="end" style="fill:#222;stroke:#222;stroke-width:0.08px;font-family:'DejaVu Sans','Liberation Sans',sans-serif;font-size:5.7px;font-weight:normal" >1</text>
<line x1="418.23" y1="471.20" x2="418.23" y2="473.20" stroke="#222" stroke-width="0.5"/>
<text x="418.23" y="479.70" text-anchor="middle" style="fill:#222;stroke:#222;stroke-width:0.08px;font-family:'DejaVu Sans','Liberation Sans',sans-serif;font-size:5.6px;font-weight:normal" >0</text>
<line x1="480.07" y1="471.20" x2="480.07" y2="473.20" stroke="#222" stroke-width="0.5"/>
<text x="480.07" y="479.70" text-anchor="middle" style="fill:#222;stroke:#222;stroke-width:0.08px;font-family:'DejaVu Sans','Liberation Sans',sans-serif;font-size:5.6px;font-weight:normal" >1</text>
<text x="449.15" y="487.80" text-anchor="middle" style="fill:#222;stroke:#222;stroke-width:0.08px;font-family:'DejaVu Sans','Liberation Sans',sans-serif;font-size:5.7px;font-weight:normal" >Predicted label</text>
<text x="375.40" y="409.10" text-anchor="middle" style="fill:#222;stroke:#222;stroke-width:0.08px;font-family:'DejaVu Sans','Liberation Sans',sans-serif;font-size:5.4px;font-weight:normal" transform="rotate(-90 375.40 409.10)">True label</text>
<rect x="520.30" y="347.00" width="6.30" height="124.20" fill="url(#cb)" stroke="#707070" stroke-width="0.8"/>
<line x1="526.60" y1="462.66" x2="528.60" y2="462.66" stroke="#222" stroke-width="0.5"/>
<text x="530.90" y="465.06" text-anchor="start" style="fill:#222;stroke:#222;stroke-width:0.08px;font-family:'DejaVu Sans','Liberation Sans',sans-serif;font-size:5.5px;font-weight:normal" >200</text>
<line x1="526.60" y1="441.32" x2="528.60" y2="441.32" stroke="#222" stroke-width="0.5"/>
<text x="530.90" y="443.72" text-anchor="start" style="fill:#222;stroke:#222;stroke-width:0.08px;font-family:'DejaVu Sans','Liberation Sans',sans-serif;font-size:5.5px;font-weight:normal" >400</text>
<line x1="526.60" y1="419.98" x2="528.60" y2="419.98" stroke="#222" stroke-width="0.5"/>
<text x="530.90" y="422.38" text-anchor="start" style="fill:#222;stroke:#222;stroke-width:0.08px;font-family:'DejaVu Sans','Liberation Sans',sans-serif;font-size:5.5px;font-weight:normal" >600</text>
<line x1="526.60" y1="398.64" x2="528.60" y2="398.64" stroke="#222" stroke-width="0.5"/>
<text x="530.90" y="401.04" text-anchor="start" style="fill:#222;stroke:#222;stroke-width:0.08px;font-family:'DejaVu Sans','Liberation Sans',sans-serif;font-size:5.5px;font-weight:normal" >800</text>
<line x1="526.60" y1="377.30" x2="528.60" y2="377.30" stroke="#222" stroke-width="0.5"/>
<text x="530.90" y="379.70" text-anchor="start" style="fill:#222;stroke:#222;stroke-width:0.08px;font-family:'DejaVu Sans','Liberation Sans',sans-serif;font-size:5.5px;font-weight:normal" >1000</text>
<line x1="526.60" y1="355.96" x2="528.60" y2="355.96" stroke="#222" stroke-width="0.5"/>
<text x="530.90" y="358.36" text-anchor="start" style="fill:#222;stroke:#222;stroke-width:0.08px;font-family:'DejaVu Sans','Liberation Sans',sans-serif;font-size:5.5px;font-weight:normal" >1200</text>
<text x="457.10" y="505.60" text-anchor="middle" style="fill:#111;stroke:#111;stroke-width:0.05px;font-family:'Liberation Serif','DejaVu Serif',serif;font-size:10.6px;font-weight:bold" >(l)</text>
</svg>
</body></html>
